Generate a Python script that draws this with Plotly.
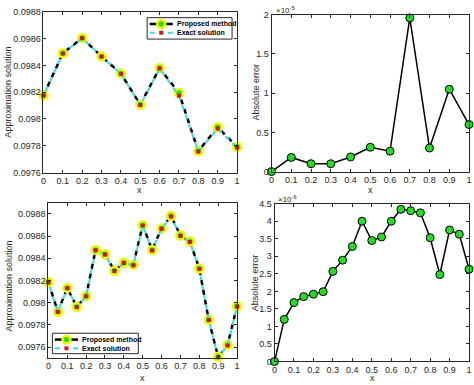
import plotly.graph_objects as go

# ---------------- data ----------------
x_top = [0.0, 0.1, 0.2, 0.3, 0.4, 0.5, 0.6, 0.7, 0.8, 0.9, 1.0]
approx_top = [0.098175, 0.098491, 0.098604, 0.098467, 0.098339, 0.098107,
              0.098380, 0.098194, 0.097760, 0.097938, 0.097793]
exact_top = [0.098175, 0.098489, 0.098603, 0.098466, 0.098337, 0.098104,
             0.098377, 0.098174, 0.097757, 0.097928, 0.097787]
err_top = [0.0, 0.18e-5, 0.10e-5, 0.10e-5, 0.186e-5, 0.31e-5,
           0.26e-5, 1.96e-5, 0.30e-5, 1.05e-5, 0.60e-5]

x_bot = [0.0, 0.05, 0.1, 0.15, 0.2, 0.25, 0.3, 0.35, 0.4, 0.45, 0.5,
         0.55, 0.6, 0.65, 0.7, 0.75, 0.8, 0.85, 0.9, 0.95, 1.0]
approx_bot = [0.098183, 0.097918, 0.098133, 0.097962, 0.098060, 0.098474,
              0.098436, 0.098288, 0.098360, 0.098340, 0.098698, 0.098474,
              0.098669, 0.098780, 0.098605, 0.098550, 0.098308, 0.097845,
              0.097513, 0.097618, 0.097967]
exact_bot = [0.098183, 0.097917, 0.098131, 0.097960, 0.098058, 0.098472,
             0.098433, 0.098285, 0.098357, 0.098336, 0.098695, 0.098470,
             0.098665, 0.098776, 0.098601, 0.098546, 0.098304, 0.097843,
             0.097509, 0.097614, 0.097964]
err_bot = [0.0, 1.20e-6, 1.68e-6, 1.85e-6, 1.92e-6, 1.99e-6, 2.57e-6,
           2.89e-6, 3.28e-6, 4.00e-6, 3.45e-6, 3.55e-6, 4.00e-6, 4.34e-6,
           4.30e-6, 4.24e-6, 3.53e-6, 2.48e-6, 3.75e-6, 3.63e-6, 2.63e-6]

series_names = ["Proposed method", "Exact solution"]

x_ticks = [0, 0.1, 0.2, 0.3, 0.4, 0.5, 0.6, 0.7, 0.8, 0.9, 1]
x_ticktext = ["0", "0.1", "0.2", "0.3", "0.4", "0.5", "0.6", "0.7", "0.8", "0.9", "1"]
approx_ticks = [0.0976, 0.0978, 0.0980, 0.0982, 0.0984, 0.0986, 0.0988]
approx_ticktext = ["0.0976", "0.0978", "0.098", "0.0982", "0.0984", "0.0986", "0.0988"]
err_top_ticks = [0, 0.5e-5, 1e-5, 1.5e-5, 2e-5]
err_top_ticktext = ["0", "0.5", "1", "1.5", "2"]
err_bot_ticks = [0, 0.5e-6, 1e-6, 1.5e-6, 2e-6, 2.5e-6, 3e-6, 3.5e-6, 4e-6, 4.5e-6]
err_bot_ticktext = ["0", "0.5", "1", "1.5", "2", "2.5", "3", "3.5", "4", "4.5"]

# ---------------- style ----------------
FONT = "Liberation Sans, Arial, sans-serif"
AX = "#262626"
GREEN = "#22dd22"
YELLOW = "#f5f500"
CYAN = "#33e0e0"
RED = "#d81010"
W, H = 474, 385


def PX(v):
    return v / W


def PY(v):
    return (H - v) / H


def px_x(a, b):
    return [a / W, b / W]


def px_y(top, bottom):
    return [(H - bottom) / H, (H - top) / H]


fig = go.Figure()


def add_solution(xa, ya, xs, ap, ex):
    fig.add_trace(go.Scatter(
        x=xs, y=ap, mode="lines+markers", name=series_names[0], showlegend=False,
        xaxis=xa, yaxis=ya, cliponaxis=False,
        line=dict(color="black", width=2.5, dash="5px,5px"),
        marker=dict(size=8, color=GREEN, line=dict(color=YELLOW, width=2.5)),
    ))
    fig.add_trace(go.Scatter(
        x=xs, y=ex, mode="lines+markers", name=series_names[1], showlegend=False,
        xaxis=xa, yaxis=ya, cliponaxis=False,
        line=dict(color=CYAN, width=2, dash="0px,5px,5px,0px"),
        marker=dict(size=4, symbol="square", color=RED, line=dict(width=0)),
    ))


def add_error(xa, ya, xs, es):
    fig.add_trace(go.Scatter(
        x=xs, y=es, mode="lines+markers", showlegend=False,
        xaxis=xa, yaxis=ya, cliponaxis=False,
        line=dict(color="black", width=1.5),
        marker=dict(size=8, color=GREEN, line=dict(color="black", width=1)),
    ))


add_solution("x", "y", x_top, approx_top, exact_top)
add_error("x2", "y2", x_top, err_top)
add_solution("x3", "y3", x_bot, approx_bot, exact_bot)
add_error("x4", "y4", x_bot, err_bot)

common = dict(showline=True, linecolor=AX, linewidth=1, mirror="ticks",
              ticks="inside", ticklen=3, tickcolor=AX, showgrid=False,
              zeroline=False, tickfont=dict(family=FONT, size=9, color=AX))


def xax(dom, anchor):
    return dict(common, domain=dom, anchor=anchor, range=[0, 1],
                tickvals=x_ticks, ticktext=x_ticktext)


def yax(dom, anchor, rng, tv, tt):
    return dict(common, domain=dom, anchor=anchor, range=rng,
                tickvals=tv, ticktext=tt)


fig.update_layout(
    width=W, height=H, margin=dict(l=0, r=0, t=0, b=0),
    paper_bgcolor="white", plot_bgcolor="white", showlegend=False,
    xaxis=xax(px_x(41, 237), "y"),
    yaxis=yax(px_y(7, 172), "x", [0.0976, 0.0988], approx_ticks, approx_ticktext),
    xaxis2=xax(px_x(272, 472), "y2"),
    yaxis2=yax(px_y(10, 171), "x2", [0, 2e-5], err_top_ticks, err_top_ticktext),
    xaxis3=xax(px_x(46, 237), "y3"),
    yaxis3=yax(px_y(203, 362), "x3", [0.097505, 0.0989], approx_ticks, approx_ticktext),
    xaxis4=xax(px_x(275, 472), "y4"),
    yaxis4=yax(px_y(204, 366), "x4", [0, 4.5e-6], err_bot_ticks, err_bot_ticktext),
)

# ---------------- custom compact legends (MATLAB-like) ----------------
shapes = []
legend_anns = []


def add_legend(left, top, right, bottom):
    shapes.append(dict(type="rect", xref="paper", yref="paper",
                       x0=PX(left), x1=PX(right), y0=PY(bottom), y1=PY(top),
                       fillcolor="white", line=dict(color=AX, width=1)))
    y1 = top + 6.5
    y2 = top + 15.5
    lx0, lx1 = left + 2.5, left + 26
    cx = (lx0 + lx1) / 2
    # proposed: black dashed line + green/yellow marker
    shapes.append(dict(type="line", xref="paper", yref="paper",
                       x0=PX(lx0), x1=PX(lx1), y0=PY(y1), y1=PY(y1),
                       line=dict(color="black", width=2.5)))
    shapes.append(dict(type="circle", xref="paper", yref="paper",
                       x0=PX(cx - 4), x1=PX(cx + 4), y0=PY(y1 + 4), y1=PY(y1 - 4),
                       fillcolor=GREEN, line=dict(color=YELLOW, width=2.5)))
    # exact: cyan dashes + red square
    for a, b in [(lx0, lx0 + 5), (lx1 - 5, lx1)]:
        shapes.append(dict(type="line", xref="paper", yref="paper",
                           x0=PX(a), x1=PX(b), y0=PY(y2), y1=PY(y2),
                           line=dict(color=CYAN, width=2)))
    shapes.append(dict(type="rect", xref="paper", yref="paper",
                       x0=PX(cx - 2), x1=PX(cx + 2), y0=PY(y2 + 2), y1=PY(y2 - 2),
                       fillcolor=RED, line=dict(width=0)))
    for name, yy in zip(series_names, [y1, y2]):
        legend_anns.append(dict(text="<b>%s</b>" % name, x=PX(lx1 + 2), y=PY(yy),
                                xref="paper", yref="paper", showarrow=False,
                                xanchor="left", yanchor="middle",
                                font=dict(family=FONT, size=7, color="black")))


add_legend(146, 13, 232, 35)
add_legend(50, 337, 137, 358)

ann_font = dict(family=FONT, size=9, color=AX)
annotations = [
    dict(text="Approximation solution", x=5 / W, y=(H - 89) / H, textangle=-90),
    dict(text="Absolute error", x=256 / W, y=(H - 89) / H, textangle=-90),
    dict(text="Approximation solution", x=6 / W, y=(H - 288) / H, textangle=-90),
    dict(text="Absolute error", x=255 / W, y=(H - 285) / H, textangle=-90),
    dict(text="x", x=138 / W, y=(H - 190) / H),
    dict(text="x", x=372 / W, y=(H - 190) / H),
    dict(text="x", x=141 / W, y=(H - 382.5) / H),
    dict(text="x", x=374 / W, y=(H - 382.5) / H),
]
for a in annotations:
    a.update(xref="paper", yref="paper", showarrow=False, font=ann_font,
             xanchor="center", yanchor="middle")
annotations += [
    dict(text="\u00d710<sup>-5</sup>", x=274 / W, y=(H - 5) / H, xref="paper",
         yref="paper", showarrow=False, xanchor="left", yanchor="middle",
         font=dict(family=FONT, size=8, color=AX)),
    dict(text="\u00d710<sup>-6</sup>", x=277 / W, y=(H - 199) / H, xref="paper",
         yref="paper", showarrow=False, xanchor="left", yanchor="middle",
         font=dict(family=FONT, size=8, color=AX)),
]
fig.update_layout(annotations=annotations + legend_anns, shapes=shapes)

fig.write_html("out.html")
